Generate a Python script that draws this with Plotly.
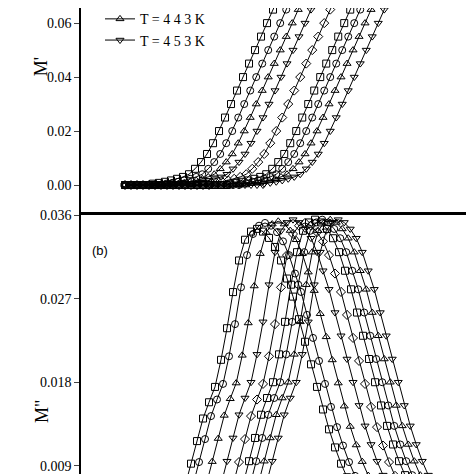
import plotly.graph_objects as go

# shared log-frequency grid step and start (arbitrary units)
x_start = 1.1
step = 0.15
# M' base curve, relative positions (step 0.15) around the point where M' = 0.02
top_rel_start = -1.5
top_base = [0.0005, 0.0008, 0.0012, 0.0017, 0.0023, 0.003, 0.004, 0.006, 0.0085, 0.0115, 0.0155,
            0.020, 0.025, 0.030, 0.035, 0.040, 0.045, 0.050, 0.055, 0.060, 0.065, 0.070]
top_offsets = [3.3, 3.63, 3.93, 4.25, 4.73, 5.23, 5.48, 5.75, 6.08]
# M'' base curve around the left-flank point where M'' = 0.018
bot_rel_start = -0.9
bot_base = [0.005, 0.007, 0.0095, 0.012, 0.0145, 0.0163, 0.018, 0.021, 0.0245, 0.0285, 0.032, 0.0343,
            0.0352, 0.0355, 0.0352, 0.0345, 0.0335, 0.032, 0.030, 0.028, 0.0255, 0.023, 0.0205,
            0.018, 0.0155, 0.0133, 0.0113, 0.0095, 0.008, 0.0068]
bot_offsets = [3.35, 3.55, 3.88, 4.25, 4.55, 4.8, 4.98, 5.18, 5.38]
peak_scale = [0.972, 0.99, 0.995, 1.0, 0.99, 1.0, 1.0, 1.0, 1.0]
symbols = ["square-open", "circle-open", "triangle-up-open", "triangle-down-open", "diamond-open",
           "square-open", "circle-open", "triangle-up-open", "triangle-down-open"]
labels = ["T = 3 7 3 K", "T = 3 8 3 K", "T = 3 9 3 K", "T = 4 0 3 K", "T = 4 1 3 K",
          "T = 4 2 3 K", "T = 4 3 3 K", "T = 4 4 3 K", "T = 4 5 3 K"]

fig = go.Figure()
for i in range(9):
    xs, ys = [], []
    start = top_offsets[i] + top_rel_start
    k = 0
    while x_start + k * step < start:
        xs.append(x_start + k * step); ys.append(0.0); k += 1
    for j, v in enumerate(top_base):
        xs.append(start + j * step); ys.append(v)
    fig.add_trace(go.Scatter(x=xs, y=ys, mode="lines+markers", name=labels[i],
                             showlegend=(i >= 7), line=dict(color="black", width=1),
                             marker=dict(symbol=symbols[i], size=7, color="black", line=dict(width=1)),
                             xaxis="x", yaxis="y"))
    bx = [bot_offsets[i] + bot_rel_start + j * step for j in range(len(bot_base))]
    by = [v * peak_scale[i] for v in bot_base]
    fig.add_trace(go.Scatter(x=bx, y=by, mode="lines+markers", showlegend=False,
                             line=dict(color="black", width=1),
                             marker=dict(symbol=symbols[i], size=7, color="black", line=dict(width=1)),
                             xaxis="x2", yaxis="y2"))

top_split = 1 - 204 / 474
bot_split = 1 - 207 / 474
font = dict(family="Liberation Serif", size=14, color="black")
fig.update_layout(
    width=474, height=474, margin=dict(l=0, r=0, t=0, b=0, autoexpand=False),
    paper_bgcolor="white", plot_bgcolor="white", font=font,
    xaxis=dict(domain=[73 / 474, 0.998], range=[0, 10], anchor="y", showticklabels=False, automargin=False,
               showgrid=False, zeroline=False, showline=True, linecolor="black", linewidth=1.5, ticks=""),
    yaxis=dict(domain=[top_split, 1], range=[-0.0100, 0.0656], tickvals=[0, 0.02, 0.04, 0.06],
               ticktext=["0.00", "0.02", "0.04", "0.06"], ticks="outside", ticklen=5, automargin=False,
               showgrid=False, zeroline=False, showline=True, mirror=True, linecolor="black", linewidth=1.5),
    xaxis2=dict(domain=[73 / 474, 0.998], range=[0, 10], anchor="y2", side="top", showticklabels=False,
                automargin=False,
                showgrid=False, zeroline=False, showline=True, linecolor="black", linewidth=1.5, ticks=""),
    yaxis2=dict(domain=[0, bot_split], range=[0.00726, 0.036], tickvals=[0.009, 0.018, 0.027, 0.036],
                ticktext=["0.009", "0.018", "0.027", "0.036"], ticks="outside", ticklen=5, automargin=False,
                showgrid=False, zeroline=False, showline=True, mirror=True, linecolor="black", linewidth=1.5),
    legend=dict(x=92 / 474, y=1.01, xanchor="left", yanchor="top", bgcolor="rgba(0,0,0,0)", font=font,
                tracegroupgap=0, itemwidth=30),
    annotations=[
        dict(text="M'", x=0.045, y=0.90, xref="paper", yref="paper", showarrow=False, textangle=-90,
             font=dict(family="Liberation Serif", size=18)),
        dict(text="M\"", x=0.045, y=0.12, xref="paper", yref="paper", showarrow=False, textangle=-90,
             font=dict(family="Liberation Serif", size=18)),
        dict(text="(b)", x=82 / 474, y=1 - 242 / 474, xref="paper", yref="paper", showarrow=False,
             xanchor="left", font=dict(family="Liberation Sans", size=13)),
    ],
)
fig.write_html("out.html")
